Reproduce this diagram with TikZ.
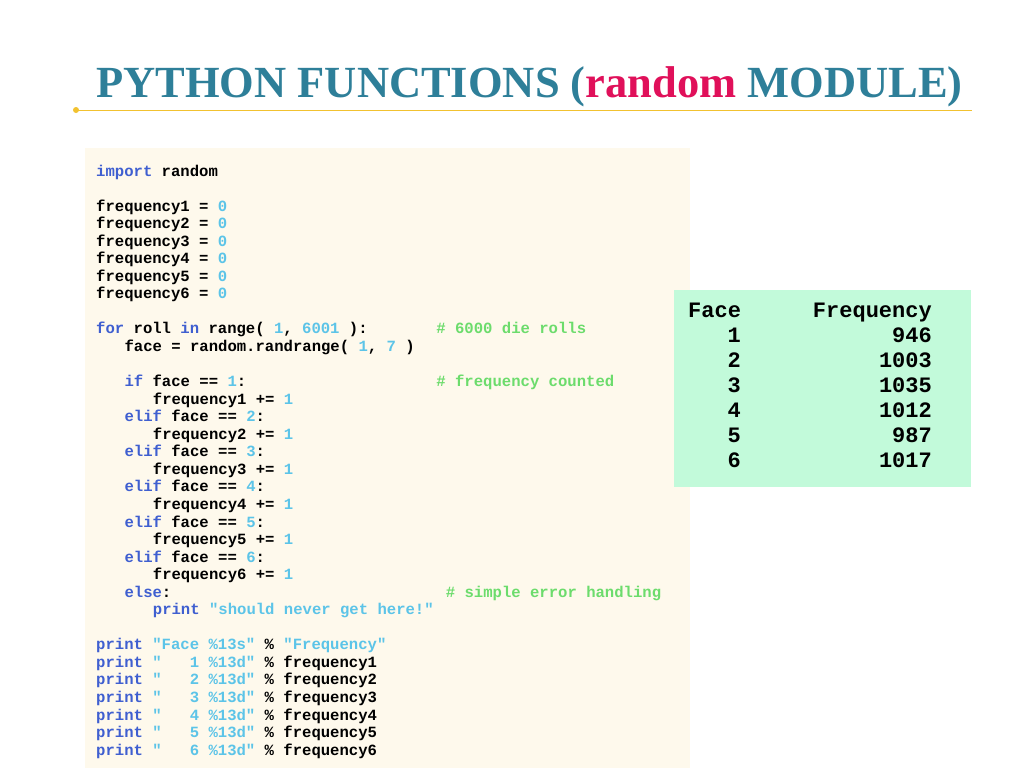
\documentclass[tikz,border=0pt]{standalone}
\usepackage{fontspec}
\setmainfont{Liberation Serif}
\setmonofont{Liberation Mono}
\definecolor{teal}{HTML}{2E7F99}
\definecolor{mag}{HTML}{E0105A}
\definecolor{kwc}{HTML}{3F5FD0}
\definecolor{nmc}{HTML}{5CC4E8}
\definecolor{cmc}{HTML}{6CDC6C}
\definecolor{codebg}{HTML}{FEF9EC}
\definecolor{tabbg}{HTML}{C2FADA}
\definecolor{rule}{HTML}{F2C230}
\newcommand\kw[1]{\textcolor{kwc}{#1}}
\newcommand\nm[1]{\textcolor{nmc}{#1}}
\newcommand\cm[1]{\textcolor{cmc}{#1}}
\tikzset{code/.style={anchor=base west,inner sep=0,font=\ttfamily\bfseries\fontsize{15.6}{16}\selectfont,text=black},
tab/.style={anchor=base east,inner sep=0,font=\ttfamily\bfseries\fontsize{22}{24}\selectfont,text=black}}
\begin{document}
\begin{tikzpicture}[x=1pt,y=-1pt]
\useasboundingbox (0,0) rectangle (1024,768);
\fill[white] (0,0) rectangle (1024,768);
\node[anchor=base west,inner sep=0,font=\bfseries\fontsize{44.5}{48}\selectfont,text=teal] (title) at (96,97) {PYTHON FUNCTIONS (\textcolor{mag}{random} MODULE)};
\draw[rule,line width=1pt] (76,110) -- (972,110);
\fill[rule] (76,110) circle (3);
\fill[codebg] (85,148) rectangle (690,768);
\fill[tabbg] (674,290) rectangle (971,487);
\def\w{9.45}
\def\L#1#2#3{\node[code] (l#1) at ({96+\w*#2},{176+17.55*#1}) {#3};}
\L{0}{0}{\kw{import} random}
\L{2}{0}{frequency1 = \nm{0}}
\L{3}{0}{frequency2 = \nm{0}}
\L{4}{0}{frequency3 = \nm{0}}
\L{5}{0}{frequency4 = \nm{0}}
\L{6}{0}{frequency5 = \nm{0}}
\L{7}{0}{frequency6 = \nm{0}}
\L{9}{0}{\kw{for} roll \kw{in} range( \nm{1}, \nm{6001} ):}
\node[code] (c9) at ({96+\w*36},{176+17.55*9}) {\cm{\# 6000 die rolls}};
\L{10}{3}{face = random.randrange( \nm{1}, \nm{7} )}
\L{12}{3}{\kw{if} face == \nm{1}:}
\node[code] (c12) at ({96+\w*36},{176+17.55*12}) {\cm{\# frequency counted}};
\L{13}{6}{frequency1 += \nm{1}}
\L{14}{3}{\kw{elif} face == \nm{2}:}
\L{15}{6}{frequency2 += \nm{1}}
\L{16}{3}{\kw{elif} face == \nm{3}:}
\L{17}{6}{frequency3 += \nm{1}}
\L{18}{3}{\kw{elif} face == \nm{4}:}
\L{19}{6}{frequency4 += \nm{1}}
\L{20}{3}{\kw{elif} face == \nm{5}:}
\L{21}{6}{frequency5 += \nm{1}}
\L{22}{3}{\kw{elif} face == \nm{6}:}
\L{23}{6}{frequency6 += \nm{1}}
\L{24}{3}{\kw{else}:}
\node[code] (c24) at ({96+\w*37},{176+17.55*24}) {\cm{\# simple error handling}};
\L{25}{6}{\kw{print} \nm{"should never get here!"}}
\L{27}{0}{\kw{print} \nm{"Face \%13s"} \% \nm{"Frequency"}}
\L{28}{0}{\kw{print} \nm{"~~~1 \%13d"} \% frequency1}
\L{29}{0}{\kw{print} \nm{"~~~2 \%13d"} \% frequency2}
\L{30}{0}{\kw{print} \nm{"~~~3 \%13d"} \% frequency3}
\L{31}{0}{\kw{print} \nm{"~~~4 \%13d"} \% frequency4}
\L{32}{0}{\kw{print} \nm{"~~~5 \%13d"} \% frequency5}
\L{33}{0}{\kw{print} \nm{"~~~6 \%13d"} \% frequency6}
\node[tab,anchor=base west] (th1) at (688,317) {Face};
\node[tab] (th2) at (932,317) {Frequency};
\foreach \f/\n [count=\i] in {1/946,2/1003,3/1035,4/1012,5/987,6/1017}{
  \node[tab] (f\i) at (741,{317+25*\i}) {\f};
  \node[tab] (n\i) at (932,{317+25*\i}) {\n};
}
\end{tikzpicture}
\end{document}
